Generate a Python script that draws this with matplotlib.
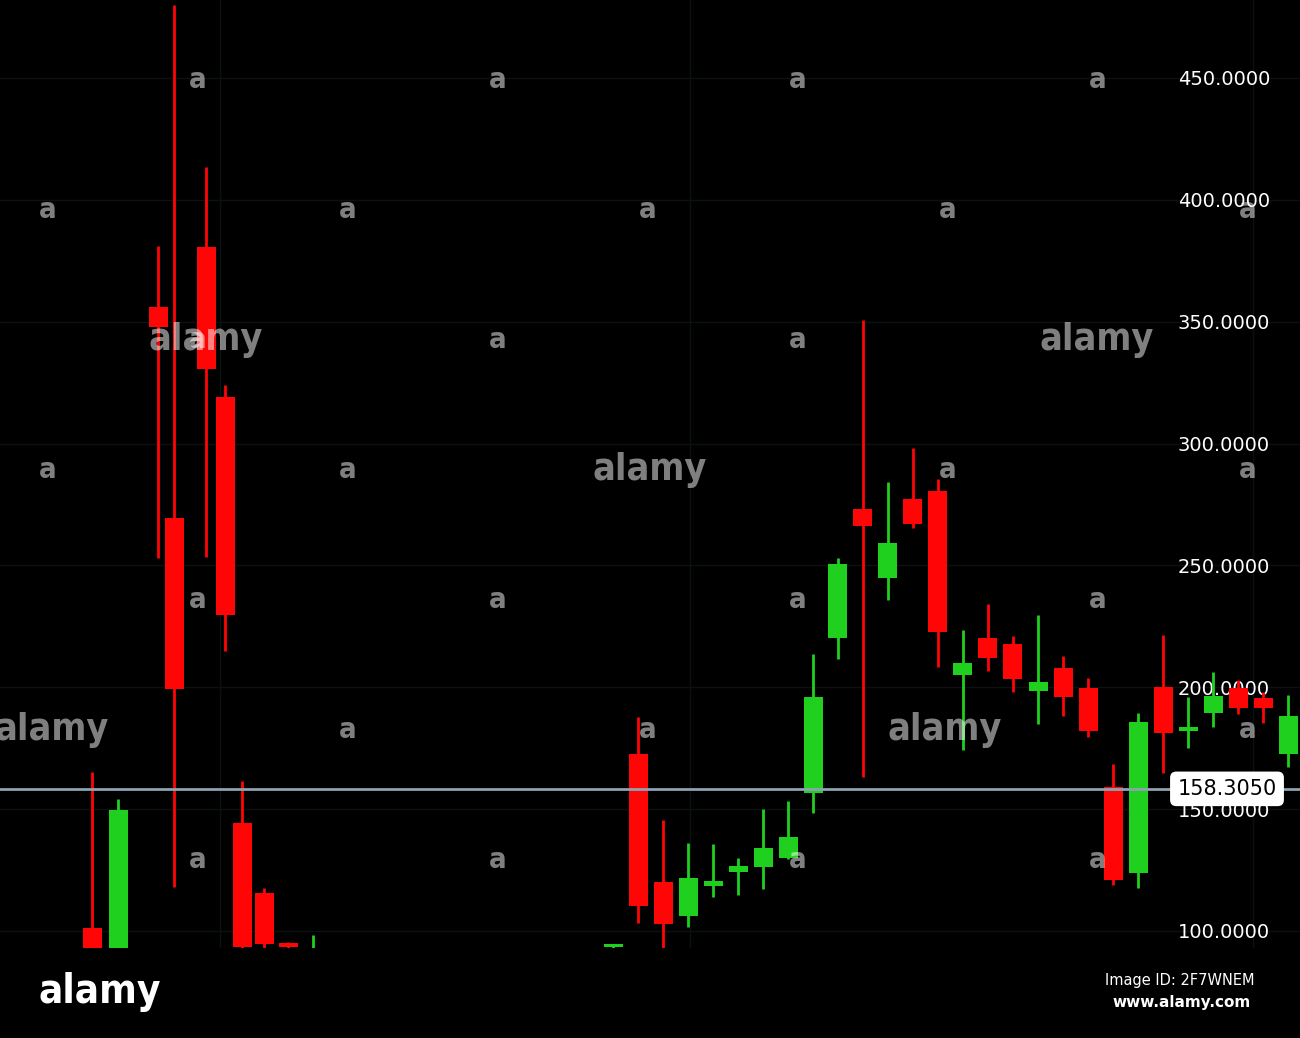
import matplotlib
matplotlib.use("Agg")
import matplotlib.pyplot as plt
import numpy as np

# candle positions (slot index) and OHLC values
xpos = [3.16, 4.2, 5.8, 6.44, 7.72, 8.48, 9.16, 10.04, 11, 12,
        24, 25, 26, 27, 28, 29, 30, 31, 32, 33, 34, 35, 36, 37, 38, 39,
        40, 41, 42, 43, 44, 45, 46, 47, 48, 49, 50, 51]
opens = [101.2, 88, 356, 269.5, 380.7, 319, 144.3, 115.6, 95, 88,
         93.4, 172.6, 120.1, 106.1, 118.4, 124.2, 126.2, 129.9, 156.6, 220.2,
         273.1, 244.8, 277.2, 280.5, 205, 220.2, 217.7, 198.5, 207.9, 199.7,
         159, 123.8, 200.1, 182.1, 189.4, 199.7, 195.6, 172.6]
highs = [165.2, 154.2, 381, 480, 413.5, 324, 161.5, 117.5, 95.5, 98.3,
         94.2, 187.8, 145.5, 136.1, 135.7, 129.9, 150, 153.3, 213.6, 253,
         350.7, 284.2, 298.2, 285.5, 223.5, 234.2, 221, 229.6, 212.8, 203.9,
         168.5, 189.4, 221.4, 196, 206.3, 203, 198, 196.8]
lows = [85, 85, 253, 118, 253.5, 215, 91, 92, 92, 85,
        93.2, 103.3, 93, 101.6, 113.9, 114.7, 117.2, 129.5, 148.4, 211.6,
        163.2, 235.8, 265.3, 208.3, 174.2, 206.7, 198, 184.9, 188.2, 179.6,
        118.8, 117.6, 164.8, 175, 183.7, 189, 185.3, 167.3]
closes = [88, 149.6, 348, 199.3, 330.6, 229.6, 93.5, 94.6, 93.6, 90,
          94, 110.2, 102.9, 121.7, 120.5, 126.6, 134, 138.5, 196, 250.6,
          266.2, 259.2, 267, 222.7, 210, 212, 203.4, 202.2, 196, 182.1,
          120.9, 185.7, 181.2, 183.7, 196.4, 191.5, 191.5, 188.2]

yticks = [100, 150, 200, 250, 300, 350, 400, 450]
last_price = 158.305

UP = "#1fd01f"
DOWN = "#ff0505"

fig = plt.figure(figsize=(13, 10.38), dpi=100, facecolor="black")
ax = fig.add_axes([0, 90 / 1038, 1, 948 / 1038])
ax.set_facecolor("black")

o = np.array(opens)
c = np.array(closes)
colors = [UP if cc >= oo else DOWN for oo, cc in zip(o, c)]
ax.vlines(xpos, lows, highs, colors=colors, linewidth=2.0, zorder=2)
body_h = np.maximum(np.abs(c - o), 1.2)
ax.bar(xpos, body_h, bottom=np.minimum(o, c), width=0.76, color=colors,
       linewidth=0, zorder=3)

ax.axhline(last_price, color="#8ea2b4", linewidth=2, zorder=4)

ax.set_xlim(-0.52, 51.48)
ax.set_ylim(93.0, 482.0)

# axis labels drawn inside the plot on the right
ax.yaxis.tick_right()
ax.set_yticks(yticks)
ax.set_yticklabels([f"{v:.4f}" for v in yticks])
ax.tick_params(axis="y", length=0, pad=-21.6, labelsize=14, labelcolor="white")
for lbl in ax.get_yticklabels():
    lbl.set_horizontalalignment("right")
ax.set_xticks([8.28, 27.08, 49.6])
ax.tick_params(axis="x", length=0, labelbottom=False)
ax.grid(True, color="#0d1013", linewidth=1, zorder=0)
for s in ax.spines.values():
    s.set_visible(False)

ax.text(1.0 - 73 / 1300, last_price, f"{last_price:.4f}",
        transform=ax.get_yaxis_transform(), ha="center", va="center",
        fontsize=15, color="black", zorder=6,
        bbox=dict(boxstyle="round,pad=0.35,rounding_size=0.3",
                  fc="white", ec="none"))

# stock photo watermarks (narrow bold lettering)
wm = dict(color="white", alpha=0.5, fontweight="bold", fontstretch="condensed",
          family="DejaVu Sans", ha="center", va="center", zorder=10)
small_a = [(198, 80), (498, 80), (798, 80), (1098, 80),
           (48, 210), (348, 210), (648, 210), (948, 210), (1248, 210),
           (198, 340), (498, 340), (798, 340),
           (48, 470), (348, 470), (948, 470), (1248, 470),
           (198, 600), (498, 600), (798, 600), (1098, 600),
           (348, 730), (648, 730), (1248, 730),
           (198, 860), (498, 860), (798, 860), (1098, 860)]
for x, y in small_a:
    fig.text(x / 1300, 1 - y / 1038, "a", fontsize=21, **wm)
big = [(206, 340), (1097, 340), (650, 470), (52, 730), (945, 730)]
for x, y in big:
    fig.text(x / 1300, 1 - y / 1038, "alamy", fontsize=27, **wm)

fig.text(100 / 1300, 1 - 992 / 1038, "alamy", fontsize=29, color="white",
         fontweight="bold", fontstretch="condensed", family="DejaVu Sans",
         ha="center", va="center")
fig.text(1180 / 1300, 1 - 980 / 1038, "Image ID: 2F7WNEM", fontsize=10.5,
         color="white", ha="center", va="center")
fig.text(1182 / 1300, 1 - 1003 / 1038, "www.alamy.com", fontsize=11,
         color="white", fontweight="bold", ha="center", va="center")

fig.savefig("out.png", dpi=100, facecolor="black")
